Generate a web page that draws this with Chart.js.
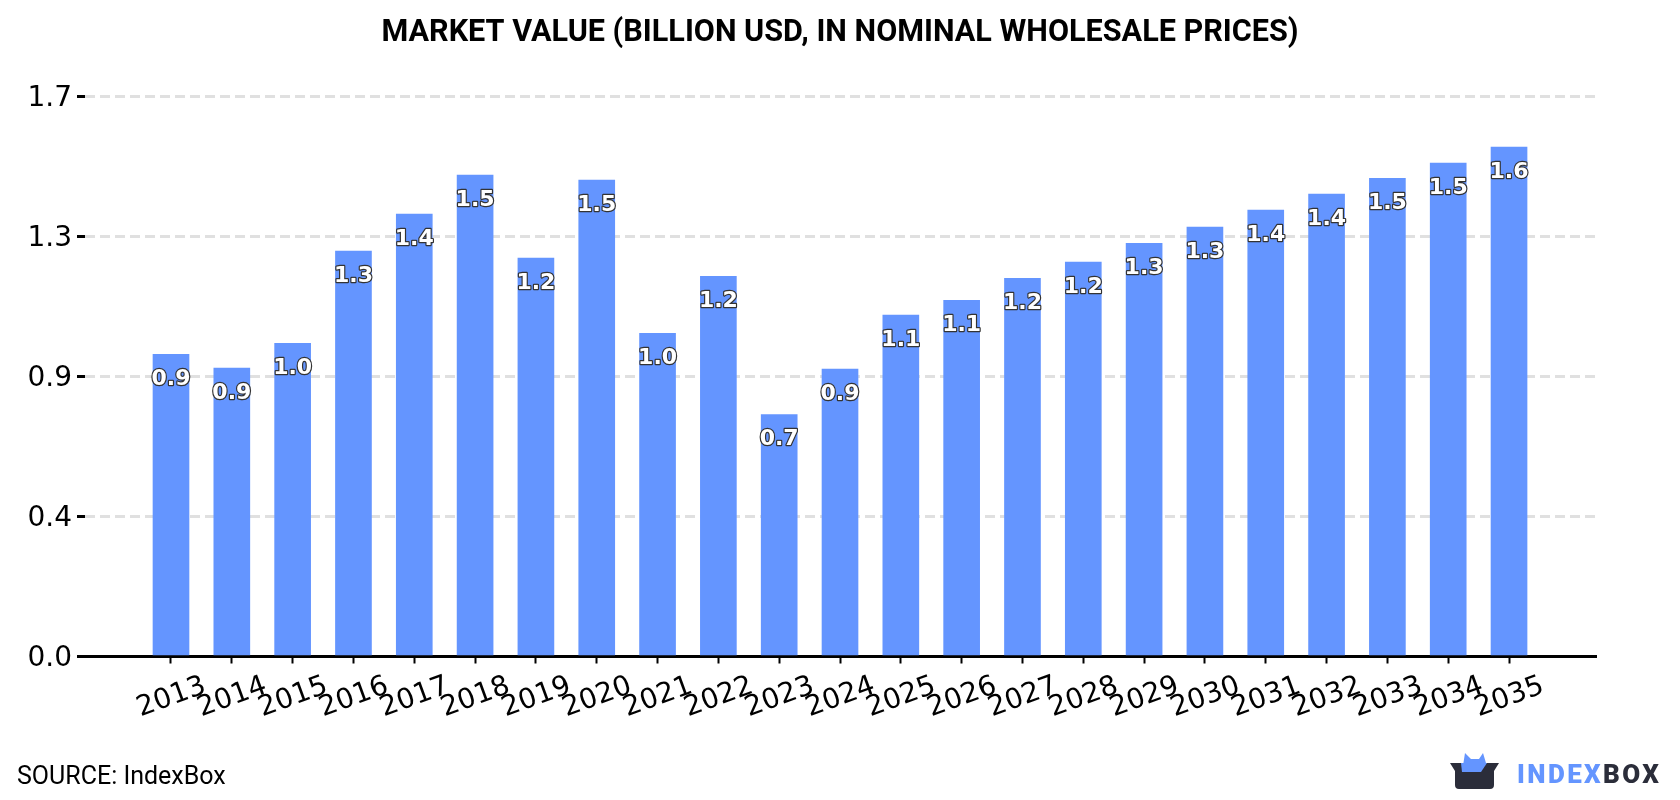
<!DOCTYPE html>
<html>
<head>
<meta charset="utf-8">
<title>Market value</title>
<script src="https://cdn.jsdelivr.net/npm/chart.js@4/dist/chart.umd.min.js"></script>
<style>
  html, body { margin: 0; padding: 0; background: #fff; }
  #wrap { position: relative; width: 1680px; height: 800px; overflow: hidden; }
  #source { position: absolute; left: 17px; top: 761px; font: 25px Roboto, sans-serif; color: #000; line-height: 30px; }
  #logo { position: absolute; left: 1440px; top: 745px; width: 240px; height: 55px; }
</style>
</head>
<body>
<div id="wrap">
  <canvas id="chart" width="1680" height="800"></canvas>
  <div id="source">SOURCE: IndexBox</div>
  <svg id="logo" viewBox="1440 745 240 55" xmlns="http://www.w3.org/2000/svg">
    <path d="M1462 772 L1465 753 L1471 759 L1479 759 L1483 753 L1486 763 L1487 772 Z" fill="#6495ff"/>
    <path d="M1450 763 L1499 763 L1494 771 L1494 785 Q1494 789 1490 789 L1459 789 Q1455 789 1455 785 L1455 771 Z M1462 772 L1476 772 L1482 763 L1462 763 Z" fill="#2b2d3a" fill-rule="evenodd"/>
    <path d="M1461 763 L1487 763 L1481 772 L1462 772 Z" fill="#6495ff"/>
    <text x="1517" y="783" font-family="Roboto, sans-serif" font-weight="900" font-size="26" letter-spacing="2.4"><tspan fill="#6495ff">INDEX</tspan><tspan fill="#2b2d3a">BOX</tspan></text>
  </svg>
</div>
<script>
const years = [2013, 2014, 2015, 2016, 2017, 2018, 2019, 2020, 2021, 2022, 2023, 2024,
               2025, 2026, 2027, 2028, 2029, 2030, 2031, 2032, 2033, 2034, 2035];
const marketValue = [0.934, 0.891, 0.968, 1.253, 1.367, 1.488, 1.231, 1.472, 0.999, 1.175, 0.748, 0.888,
                     1.055, 1.101, 1.169, 1.219, 1.277, 1.327, 1.380, 1.429, 1.478, 1.525, 1.574];
const valueTicks = [0, 0.4325, 0.865, 1.2975, 1.73];
const titleText = 'MARKET VALUE (BILLION USD, IN NOMINAL WHOLESALE PRICES)';
const rightGutter = 84;

// Value captions: white bold digits with a dark outline, just inside each bar's top.
const barCaptions = {
  id: 'barCaptions',
  afterDatasetsDraw(chart) {
    const { ctx } = chart;
    const meta = chart.getDatasetMeta(0);
    ctx.save();
    ctx.font = 'bold 22px "DejaVu Sans"';
    ctx.textAlign = 'center';
    ctx.textBaseline = 'middle';
    ctx.lineJoin = 'round';
    meta.data.forEach((bar, i) => {
      const label = marketValue[i].toFixed(1);
      const y = bar.y + 25;
      ctx.lineWidth = 2.4;
      ctx.strokeStyle = '#333';
      ctx.strokeText(label, bar.x, y);
      ctx.fillStyle = '#fff';
      ctx.fillText(label, bar.x, y);
    });
    ctx.restore();
  }
};

// The title spans the whole canvas, not just the space left of the right gutter.
const fullWidthTitle = {
  id: 'fullWidthTitle',
  afterLayout(chart) { chart.titleBlock.right = chart.width; }
};

new Chart(document.getElementById('chart'), {
  type: 'bar',
  data: {
    datasets: [{
      data: years.map((year, i) => ({ x: year, y: marketValue[i] })),
      backgroundColor: '#6495ff',
      barThickness: 36
    }]
  },
  plugins: [barCaptions, fullWidthTitle],
  options: {
    responsive: false,
    animation: false,
    events: [],
    layout: { padding: { left: 0, right: rightGutter, top: 0, bottom: 0 } },
    plugins: {
      legend: { display: false },
      tooltip: { enabled: false },
      title: {
        display: true,
        text: titleText,
        color: '#000',
        font: { family: 'Roboto', weight: 'bold', size: 30.6, lineHeight: 1.2 },
        padding: { top: 15.4, bottom: 44.6 }
      }
    },
    scales: {
      x: {
        type: 'linear',
        offset: false,
        min: 2011.586,
        max: 2036.43,
        z: 1,
        afterBuildTicks(scale) { scale.ticks = years.map(value => ({ value })); },
        afterFit(scale) { scale.height = 143.5; },
        grid: { offset: false, drawOnChartArea: false, drawTicks: true, tickLength: 7, tickColor: '#000', tickWidth: 2 },
        border: { display: true, color: '#000', width: 3 },
        ticks: {
          autoSkip: false,
          minRotation: 20,
          maxRotation: 20,
          labelOffset: 34,
          padding: 6,
          color: '#000',
          font: { family: 'DejaVu Sans', size: 28 },
          callback: value => String(value)
        }
      },
      y: {
        min: 0,
        max: 1.73,
        afterBuildTicks(scale) { scale.ticks = valueTicks.map(value => ({ value })); },
        afterFit(scale) { scale.width = 85; },
        grid: {
          color: '#e0e0e0',
          lineWidth: 3,
          tickColor: '#000',
          tickWidth: 3,
          tickLength: 8
        },
        border: { display: false, dash: [10, 5] },
        ticks: {
          padding: 5,
          labelOffset: 2,
          color: '#000',
          font: { family: 'DejaVu Sans', size: 28 },
          callback: value => value.toFixed(1)
        }
      }
    }
  }
});
</script>
</body>
</html>
